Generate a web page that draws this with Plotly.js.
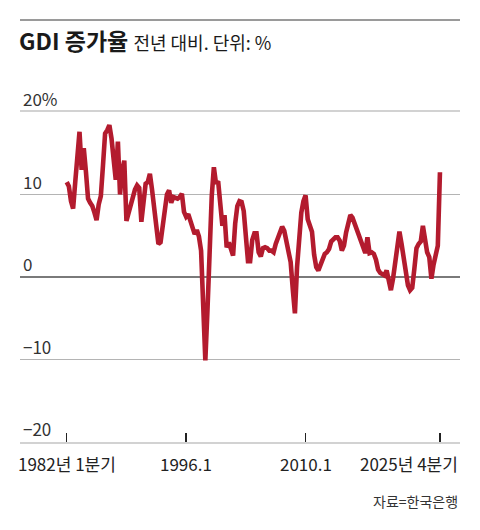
<!DOCTYPE html>
<html>
<head>
<meta charset="utf-8">
<script src="https://cdn.plot.ly/plotly-3.0.1.min.js"></script>
<style>
  html, body { margin: 0; padding: 0; background: #ffffff; }
  #chart { width: 480px; height: 530px; }
</style>
</head>
<body>
<div id="chart"></div>
<script>
// GDI growth rate (year-on-year, %), quarterly, 1982 Q1 - 2025 Q4
const firstYear = 1982;
const lastYear = 2025;

const gdiGrowth = [
  // 1982
  11.5, 11.0, 9.2, 8.3,
  // 1983
  11.5, 14.5, 17.6, 13.0,
  // 1984
  15.6, 12.8, 9.5, 9.0,
  // 1985
  8.6, 7.8, 6.9, 8.8,
  // 1986
  9.8, 13.5, 17.4, 17.8,
  // 1987
  18.4, 16.8, 14.5, 11.8,
  // 1988
  16.4, 10.0, 12.9, 14.1,
  // 1989
  6.8, 7.8, 8.5, 9.8,
  // 1990
  10.6, 11.1, 10.8, 6.7,
  // 1991
  9.5, 11.3, 11.5, 12.5,
  // 1992
  10.6, 8.0, 5.5, 4.0,
  // 1993
  4.2, 6.1, 8.5, 10.0,
  // 1994
  10.5, 9.0, 9.7, 9.6,
  // 1995
  9.5, 9.7, 10.1, 7.9,
  // 1996
  7.3, 7.6, 6.8, 5.7,
  // 1997
  5.2, 5.7, 4.9, 3.2,
  // 1998
  -4.0, -10.1, -4.0, 4.5,
  // 1999
  9.8, 13.3, 11.3, 11.6,
  // 2000
  8.0, 6.2, 7.5, 3.6,
  // 2001
  4.2, 3.3, 2.6, 6.5,
  // 2002
  8.6, 9.2, 9.1, 8.0,
  // 2003
  4.0, 1.9, 1.9, 4.5,
  // 2004
  5.3, 5.3, 3.0, 2.5,
  // 2005
  3.5, 3.6, 3.5, 3.2,
  // 2006
  3.2, 3.0, 4.0, 4.8,
  // 2007
  5.6, 6.1, 5.6, 4.5,
  // 2008
  3.4, 1.8, -1.5, -4.4,
  // 2009
  1.2, 4.8, 7.8, 9.2,
  // 2010
  9.9, 7.0, 6.2, 5.5,
  // 2011
  2.7, 1.2, 0.8, 1.4,
  // 2012
  2.1, 2.8, 3.0, 3.4,
  // 2013
  4.3, 4.6, 4.8, 4.8,
  // 2014
  4.4, 3.2, 3.8, 5.4,
  // 2015
  6.8, 7.5, 7.2, 6.5,
  // 2016
  5.7, 5.0, 4.4, 3.6,
  // 2017
  2.9, 4.8, 2.9, 3.0,
  // 2018
  2.8, 2.1, 0.9, 0.5,
  // 2019
  0.3, 0.2, 0.8, -0.4,
  // 2020
  -1.6, -0.2, 1.5, 3.5,
  // 2021
  5.5, 4.0, 2.4, 0.5,
  // 2022
  -1.0, -1.6, -1.3, 1.0,
  // 2023
  3.5, 4.0, 4.3, 6.2,
  // 2024
  4.6, 3.0, 2.4, -0.2,
  // 2025
  1.5, 2.8, 3.8, 12.7
];

// Quarter categories, e.g. "1982.1"
const quarters = [];
for (let y = firstYear; y <= lastYear; y++) {
  for (let q = 1; q <= 4; q++) quarters.push(y + '.' + q);
}

const tickQuarters = ['1982.1', '1996.1', '2010.1', '2025.4'];
const tickLabels = ['1982년 1분기', '1996.1', '2010.1', '2025년 4분기'];

const yTicks = [-20, -10, 0, 10, 20];
const yTickText = ['\u221220', '\u221210', '0', '10', '20%'];

const FONT = '"Noto Sans CJK KR", "Noto Sans", sans-serif';
const RED = '#b31b2e';

const trace = {
  type: 'scatter',
  mode: 'lines',
  x: quarters,
  y: gdiGrowth,
  line: { color: RED, width: 4.6, shape: 'linear' },
  hoverinfo: 'x+y'
};

// x labels: first three centred on their ticks, the last one flush with the right edge
const xLabelAnnotations = tickQuarters.map((q, i) => {
  const last = i === tickQuarters.length - 1;
  return {
    text: tickLabels[i],
    xref: last ? 'paper' : 'x',
    x: last ? 1 : quarters.indexOf(q),
    xanchor: last ? 'right' : 'center',
    yref: 'paper',
    y: -0.064,
    yanchor: 'middle',
    showarrow: false,
    font: { family: FONT, size: 17, color: '#222' }
  };
});

const layout = {
  width: 480,
  height: 530,
  margin: { l: 20, r: 20, t: 112, b: 88 },
  paper_bgcolor: '#ffffff',
  plot_bgcolor: '#ffffff',
  showlegend: false,
  font: { family: FONT, color: '#222' },
  title: {
    text: '<b>GDI 증가율</b> <span style="font-size:18px;font-weight:normal">전년 대비. 단위: %</span>',
    font: { family: FONT, size: 23, color: '#1a1a1a' },
    xref: 'container',
    yref: 'container',
    x: 19 / 480,
    xanchor: 'left',
    y: 1 - 42 / 530,
    yanchor: 'middle'
  },
  xaxis: {
    type: 'category',
    range: [-21.9, 184.4],
    showgrid: false,
    zeroline: false,
    showline: true,
    mirror: true,
    linecolor: '#d2d2d2',
    linewidth: 2,
    tickmode: 'array',
    tickvals: tickQuarters,
    ticktext: tickLabels,
    showticklabels: false,
    ticks: 'inside',
    ticklen: 9,
    tickwidth: 1.5,
    tickcolor: '#222',
    fixedrange: true
  },
  yaxis: {
    range: [-20, 20],
    tickmode: 'array',
    tickvals: yTicks,
    ticktext: yTickText,
    ticklabelposition: 'inside top',
    ticklabeloverflow: 'allow',
    tickfont: { family: FONT, size: 17, color: '#333' },
    ticks: '',
    showline: false,
    showgrid: true,
    gridcolor: '#b4b4b4',
    gridwidth: 1,
    zeroline: true,
    zerolinecolor: '#7a7a7a',
    zerolinewidth: 2,
    fixedrange: true
  },
  shapes: [
    {
      type: 'line',
      xref: 'paper', yref: 'paper',
      x0: 0, x1: 1,
      y0: (442 - 20) / 330, y1: (442 - 20) / 330,
      line: { color: '#9a9a9a', width: 2 }
    }
  ],
  annotations: xLabelAnnotations.concat([
    {
      text: '자료=한국은행',
      xref: 'paper', x: 1, xanchor: 'right',
      yref: 'paper', y: (442 - 501) / 330, yanchor: 'middle',
      showarrow: false,
      font: { family: FONT, size: 14, color: '#333' }
    }
  ])
};

Plotly.newPlot('chart', [trace], layout, { displayModeBar: false, staticPlot: true });
</script>
</body>
</html>
